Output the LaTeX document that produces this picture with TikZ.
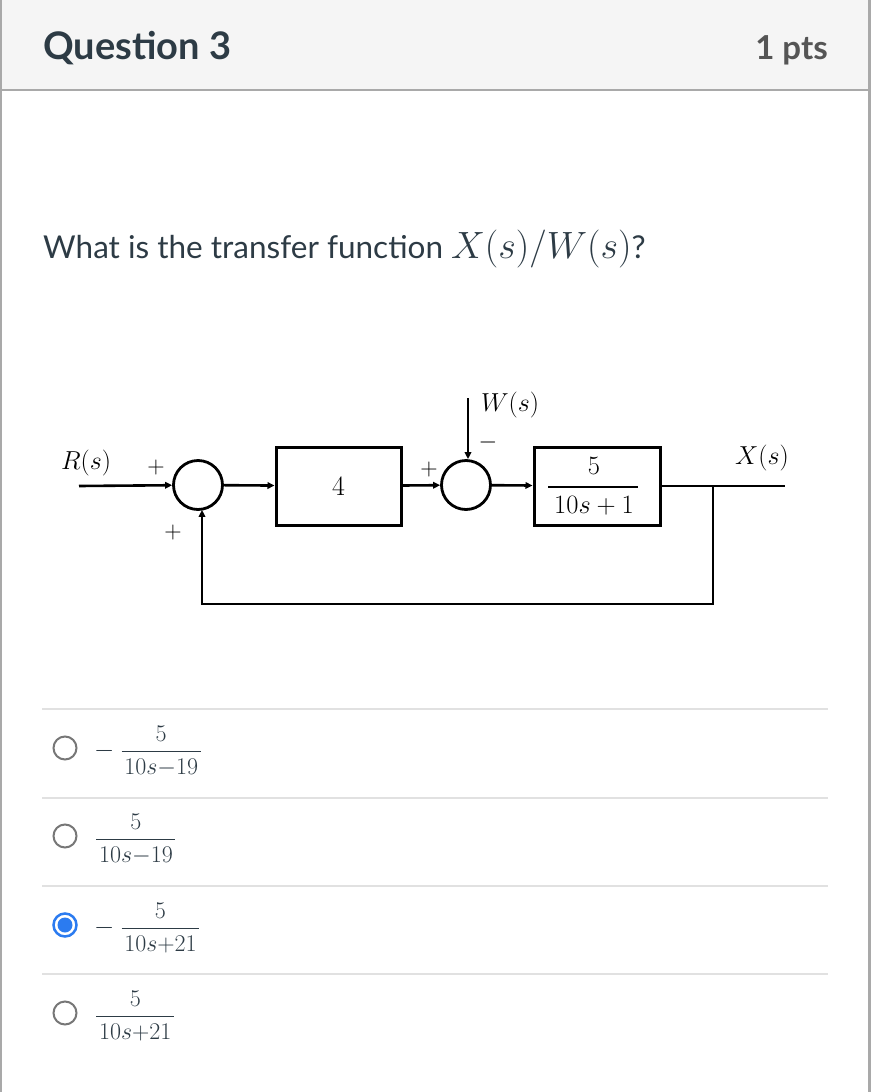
\documentclass[tikz,border=0pt]{standalone}
\usepackage{fix-cm}
\usepackage{amsmath}
\usepackage{fontspec}
\newfontfamily\lato{Lato}
\usetikzlibrary{arrows.meta,calc}
\definecolor{ink}{HTML}{2D3B45}
\definecolor{hdrbg}{HTML}{F5F5F5}
\definecolor{hdrline}{HTML}{A9A9A9}
\definecolor{sepline}{HTML}{E1E1E1}
\definecolor{radiogray}{HTML}{777777}
\definecolor{radioblue}{HTML}{2B7BF0}
\definecolor{ptsgray}{HTML}{555555}
\tikzset{
  sumnode/.style={circle,draw,line width=2.8pt,minimum size=49pt,inner sep=0pt},
  blocknode/.style={rectangle,draw,line width=3pt,inner sep=0pt},
  conn/.style={line width=2.6pt,-{Triangle[length=7pt,width=6.5pt]}},
  plainline/.style={line width=2.6pt},
  dlabel/.style={inner sep=0pt,font=\fontsize{26}{29}\selectfont},
  gainlabel/.style={inner sep=0pt,font=\fontsize{28}{31}\selectfont},
  fraclabel/.style={inner sep=0pt,font=\fontsize{26.5}{29}\selectfont},
  signlabel/.style={inner sep=0pt,font=\fontsize{24}{26}\selectfont},
  sep/.style={draw=sepline,line width=2pt},
  radio/.style={circle,draw=radiogray,line width=2pt,minimum size=23pt,inner sep=0pt},
  opttext/.style={inner sep=0pt,anchor=west,text=ink},
}
\newcommand{\optminus}{{\fontsize{26}{30}\selectfont$-$}\hspace{6pt}}
\newcommand{\optfrac}[1]{{\fontsize{24}{28}\selectfont$\displaystyle\frac{5}{\mkern2mu#1\mkern2mu}$}}
\begin{document}
\begin{tikzpicture}[x=1pt,y=-1pt]
\useasboundingbox (0,0) rectangle (878,1092);
% header
\fill[hdrbg] (0,0) rectangle (869,90);
\draw[hdrline,line width=2.5pt] (0,90) -- (869,90);
\draw[hdrline,line width=2.5pt] (1,0) -- (1,1092);
\draw[hdrline,line width=2.5pt] (869.5,0) -- (869.5,1092);
\node[anchor=base west,inner sep=0pt,text=ink,font=\lato\bfseries\fontsize{38}{44}\selectfont] (title) at (43,59) {Question 3};
\node[anchor=base east,inner sep=0pt,text=ptsgray,font=\lato\bfseries\fontsize{33}{38}\selectfont] (pts) at (828,59) {1 pts};
\node[anchor=base west,inner sep=0pt,text=ink,font=\lato\fontsize{31.5}{36}\selectfont] (question) at (43,258) {What is the transfer function {\fontsize{38}{42}\selectfont$X(s)/W(s)$}?};
% diagram
\node[sumnode] (s1) at (198,485) {};
\node[blocknode,minimum width=125pt,minimum height=78pt,gainlabel] (b1) at (338.5,486) {$4$};
\node[sumnode] (s2) at (466,485) {};
\node[blocknode,minimum width=126pt,minimum height=78pt] (b2) at (597,486) {};
\node[fraclabel] (b2num) at (594,466) {$5$};
\node[fraclabel] (b2den) at (594,506) {$10s+1$};
\draw[line width=1.4pt] (548,487) -- (638,487);
\coordinate (rin) at (79,486);
\coordinate (wtop) at (468,398);
\coordinate (junc) at (713,486);
\coordinate (xout) at (785,486);
\coordinate (fb) at (202,604);
\draw[conn] (rin) -- (s1);
\draw[conn] (s1) -- (b1);
\draw[conn] (b1) -- (s2);
\draw[conn] (s2) -- (b2);
\draw[plainline] (b2.east) -- (xout);
\draw[conn] (wtop) -- (wtop |- s2.north);
\draw[conn] (junc) |- (fb) -- ($(fb |- s1.south)+(0,-1)$);
\node[dlabel] (rlabel) at (86,463) {$R(s)$};
\node[dlabel] (wlabel) at (510,405) {$W(s)$};
\node[dlabel] (xlabel) at (762,458) {$X(s)$};
\node[signlabel] (p1) at (156,467) {$+$};
\node[signlabel] (p2) at (173,532) {$+$};
\node[signlabel] (p3) at (429,469) {$+$};
\node[signlabel] (m1) at (488,442) {$-$};
% options
\draw[sep] (42,709) -- (828,709);
\draw[sep] (42,798) -- (828,798);
\draw[sep] (42,886) -- (828,886);
\draw[sep] (42,974) -- (828,974);
\node[radio] (r1) at (65,748) {};
\node[radio] (r2) at (65,836) {};
\node[circle,draw=radioblue,line width=2.5pt,minimum size=23pt,inner sep=0pt] (r3) at (65,925) {};
\fill[radioblue] (r3.center) circle (7.5pt);
\node[radio] (r4) at (65,1013) {};
\node[opttext] (o1) at (94,751) {\optminus\optfrac{10s{-}19}};
\node[opttext] (o2) at (95,839) {\optfrac{10s{-}19}};
\node[opttext] (o3) at (94,928) {\optminus\optfrac{10s{+}21}};
\node[opttext] (o4) at (95,1016) {\optfrac{10s{+}21}};
\end{tikzpicture}
\end{document}
